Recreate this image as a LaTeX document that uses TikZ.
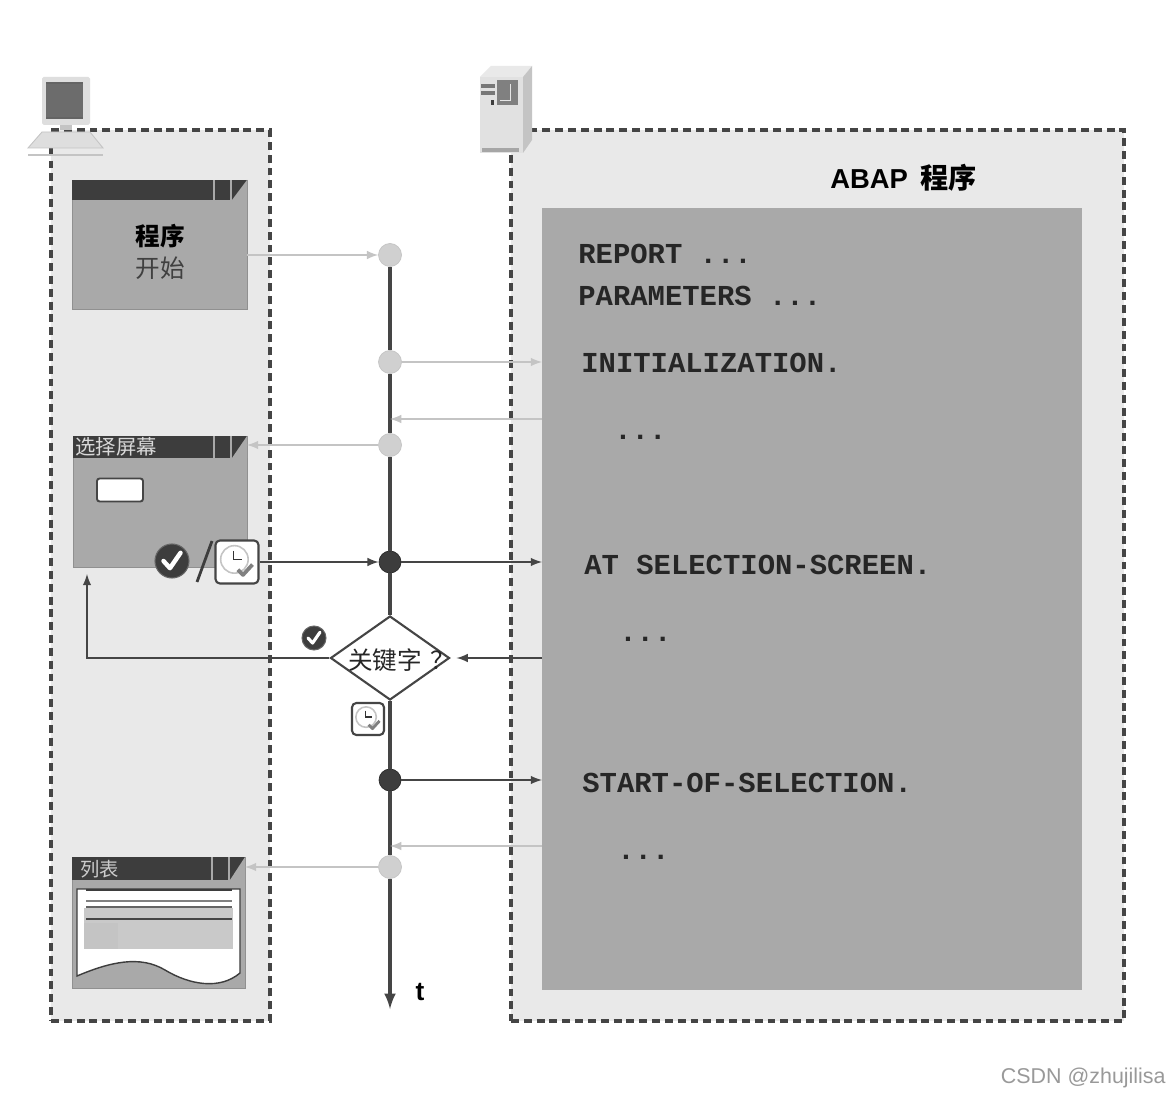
\documentclass[tikz,border=0pt]{standalone}
\usepackage{fontspec}
\setmainfont{Liberation Sans}
\newfontfamily\cjk{Noto Sans CJK SC}
\newfontfamily\codefont{Liberation Mono}
\usetikzlibrary{arrows,calc,shapes.geometric}
\definecolor{panelgray}{HTML}{E9E9E9}
\definecolor{boxgray}{HTML}{A9A9A9}
\definecolor{bardark}{HTML}{3D3D3D}
\definecolor{linedark}{HTML}{454545}
\definecolor{linelight}{HTML}{C4C4C4}
\tikzset{
 panel/.style={draw=linedark, fill=panelgray, line width=1.8pt, dash pattern=on 4.5pt off 2.8pt, anchor=north west, inner sep=0pt, outer sep=0pt},
 window/.style={fill=boxgray, draw=boxgray!85!black, line width=.5pt, anchor=north west, inner sep=0pt, outer sep=0pt},
 lightdot/.style={circle, fill=linelight!80!white, draw=linelight, minimum size=.46cm, inner sep=0pt},
 darkdot/.style={circle, fill=bardark, draw=bardark!70!black, minimum size=.44cm, inner sep=0pt},
 lightarrow/.style={draw=linelight, line width=1.2pt, -latex},
 darkarrow/.style={draw=linedark, line width=1.2pt, -latex},
 code/.style={font=\codefont\fontsize{16.45}{18}\selectfont\bfseries, text=black!85, anchor=west, inner sep=0pt},
 cjklabel/.style={font=\cjk\fontsize{14}{16}\selectfont, inner sep=0pt}
}
% window with title bar: name, x, y, width, height, bar height
\newcommand{\appwindow}[6]{
 \node[window, minimum width=#4*.02cm, minimum height=#5*.02cm] (#1) at (#2,#3) {};
 \fill[bardark] (#2,#3) rectangle ($ (#2,#3) + (#4,#6) $);
 \fill[boxgray] ($ (#2,#3) + (#4-34,0) $) rectangle ($ (#2,#3) + (#4-32,#6) $);
 \fill[boxgray] ($ (#2,#3) + (#4-17,0) $) rectangle ($ (#2,#3) + (#4-15,#6) $);
 \fill[boxgray] ($ (#2,#3) + (#4,0) $) -- ($ (#2,#3) + (#4-15,#6) $) -- ($ (#2,#3) + (#4,#6) $) -- cycle;
}
% check mark disc: name, position, radius
\newcommand{\checkdisc}[3]{
 \node[circle, fill=bardark, draw=black!60, line width=.6pt, minimum size=2*#3*.02cm, inner sep=0pt] (#1) at #2 {};
 \draw[white, line width=#3*.15pt, line cap=round, line join=round] ($ #2 + (-.5*#3,0) $) -- ($ #2 + (-.12*#3,.42*#3) $) -- ($ #2 + (.5*#3,-.48*#3) $);
}
% clock button: name, position, size
\newcommand{\clockbutton}[3]{
 \node[draw=linedark, fill=white, line width=1.2pt, rounded corners=2.5pt, minimum size=#3*.02cm, inner sep=0pt] (#1) at #2 {};
 \draw[linelight, line width=.9pt] ($ #2 + (-.06*#3,-.06*#3) $) circle (.32*#3);
 \draw[black!80, line width=.7pt] ($ #2 + (-.08*#3,-.26*#3) $) -- ($ #2 + (-.08*#3,-.06*#3) $) -- ($ #2 + (.12*#3,-.06*#3) $);
 \draw[gray, line width=#3*.05pt, line join=round] ($ #2 + (.02*#3,.18*#3) $) -- ($ #2 + (.14*#3,.3*#3) $) -- ($ #2 + (.36*#3,.06*#3) $);
}
\begin{document}
\begin{tikzpicture}[x=.02cm, y=-.02cm]
 \useasboundingbox[fill=white] (0,0) rectangle (1169,1097);
%
 \node[panel, minimum width=219*.02cm, minimum height=891*.02cm] (clientpanel) at (51,130) {};
 \node[panel, minimum width=613*.02cm, minimum height=891*.02cm] (serverpanel) at (511,130) {};
 \node[fill=boxgray, anchor=north west, inner sep=0pt, outer sep=0pt, minimum width=540*.02cm, minimum height=782*.02cm] (codebox) at (542,208) {};
%
% computer
 \fill[panelgray!90!gray, rounded corners=1pt] (42,77) rectangle (90,125);
 \fill[gray!85!black] (46,83) rectangle (83,118);
 \draw[bardark!80!white, line width=.8pt] (46,83) -- (83,83);
 \draw[bardark!80!white, line width=.8pt] (46,118) -- (83,118);
 \fill[linelight] (60,125) rectangle (72,130);
 \fill[panelgray!90!gray, draw=linelight, line width=.5pt] (28,148) -- (42,132) -- (90,132) -- (103,148) -- cycle;
 \draw[linelight, line width=1pt] (28,155) -- (103,155);
%
% server
 \fill[panelgray] (480,77) -- (491,66) -- (532,66) -- (523,77) -- cycle;
 \fill[linelight] (523,77) -- (532,66) -- (532,140) -- (523,153) -- cycle;
 \fill[panelgray!92!gray] (480,77) rectangle (523,153);
 \fill[gray] (497,80) rectangle (518,105);
 \draw[white!80!gray, line width=.5pt] (510,84) -- (510,100) -- (500,100);
 \fill[bardark!70!white] (481,84) rectangle (495,88);
 \fill[bardark!70!white] (481,91) rectangle (495,95);
 \fill[bardark] (491,100) rectangle (494,105);
 \fill[gray!70!white] (482,148) rectangle (519,152);
%
% windows
 \appwindow{startwin}{72}{180}{175}{129}{20}
 \node[cjklabel, font=\cjk\fontsize{14}{16}\selectfont\bfseries] (startlabel) at (160,236) {程序};
 \node[cjklabel, text=black!75] (startlabelb) at (160,268) {开始};
 \appwindow{selwin}{73}{436}{174}{131}{22}
 \node[cjklabel, font=\cjk\fontsize{11.6}{13}\selectfont, text=white!85!black, anchor=west] (seltitle) at (75,447) {选择屏幕};
 \node[draw=linedark, fill=white, line width=1.1pt, rounded corners=1.5pt, minimum width=46*.02cm, minimum height=23*.02cm, inner sep=0pt] (selfield) at (120,490) {};
 \appwindow{listwin}{72}{857}{173}{131}{23}
 \node[cjklabel, font=\cjk\fontsize{11}{13}\selectfont, text=white!80!black, anchor=west] (listtitle) at (80,869) {列表};
 \fill[white, draw=bardark, line width=.8pt] (77,889) -- (240,889) -- (240,973) .. controls (220,990) and (190,985) .. (165,970) .. controls (140,955) and (110,962) .. (77,976) -- cycle;
 \fill[panelgray!70!gray] (84,908) rectangle (233,949);
 \fill[linelight] (84,923) rectangle (118,949);
 \draw[bardark, line width=1pt] (86,890) -- (232,890);
 \draw[gray, line width=1pt] (86,901) -- (232,901);
 \draw[bardark!80!white, line width=1.4pt] (86,907) -- (232,907);
 \draw[linedark, line width=1.2pt] (86,919) -- (232,919);
%
% time line
 \node[lightdot] (reportdot) at (390,255) {};
 \node[lightdot] (initdot) at (390,362) {};
 \node[lightdot] (selshowdot) at (390,445) {};
 \node[darkdot] (atseldot) at (390,562) {};
 \node[diamond, draw=linedark, fill=white, line width=1.2pt, minimum width=119*.02cm, minimum height=84*.02cm, inner sep=0pt] (keyword) at (390,658) {};
 \node[darkdot] (startdot) at (390,780) {};
 \node[lightdot] (listdot) at (390,867) {};
 \coordinate (tend) at (390,1009);
 \begin{scope}[line width=2pt]
  \draw[linedark] (reportdot) -- (initdot);
  \draw[linedark] (initdot) -- (selshowdot);
  \draw[linedark] (selshowdot) -- (atseldot);
  \draw[linedark] (atseldot) -- (keyword);
  \draw[linedark] (keyword) -- (startdot);
  \draw[linedark] (startdot) -- (listdot);
  \draw[linedark, -latex] (listdot) -- (tend);
 \end{scope}
 \node[cjklabel, text=black!85, anchor=west] (keywordtext) at (348,660) {关键字\hspace{4.5pt}？};
 \node[font=\fontsize{15}{17}\selectfont\bfseries, inner sep=0pt] (tlabel) at (420,992) {t};
%
% icons
 \checkdisc{okbig}{(172,561)}{17}
 \draw[bardark, line width=1.6pt] (197,582) -- (212,541);
 \clockbutton{clockbig}{(237,562)}{43}
 \checkdisc{oksmall}{(314,638)}{12}
 \clockbutton{clocksmall}{(368,719)}{32}
%
% arrows
 \draw[lightarrow] (reportdot -| startwin.east) -- (reportdot);
 \draw[lightarrow] (initdot) -- (initdot -| codebox.west);
 \coordinate (backa) at (390,419);
 \draw[lightarrow] (backa -| codebox.west) -- (backa);
 \draw[lightarrow] (selshowdot) -- (selshowdot -| selwin.east);
 \draw[darkarrow] (clockbig.east |- atseldot) -- (atseldot);
 \draw[darkarrow] (atseldot) -- (atseldot -| codebox.west);
 \draw[darkarrow] (keyword.east -| codebox.west) -- ([xshift=.12cm]keyword.east);
 \coordinate (backup) at (87,574);
 \draw[darkarrow] (keyword.west) -| (backup);
 \draw[darkarrow] (startdot) -- (startdot -| codebox.west);
 \coordinate (backb) at (390,846);
 \draw[lightarrow] (backb -| codebox.west) -- (backb);
 \draw[lightarrow] (listdot) -- (listdot -| listwin.east);
%
% code
 \node[font=\fontsize{15.6}{18}\selectfont\bfseries, anchor=west, inner sep=0pt] (abaptitle) at (830,178) {ABAP\hspace{7pt}{\cjk\fontsize{16}{18}\selectfont 程序}};
 \node[code] (reportline) at (578,254) {REPORT ...};
 \node[code] (paramline) at (578,296) {PARAMETERS ...};
 \node[code] (initline) at (581,363) {INITIALIZATION.};
 \node[code] (initdots) at (614,437) {...};
 \node[code] (atselline) at (584,565) {AT SELECTION-SCREEN.};
 \node[code] (atseldots) at (619,639) {...};
 \node[code] (startline) at (582,783) {START-OF-SELECTION.};
 \node[code] (startdots) at (617,857) {...};
%
 \node[font=\fontsize{12.2}{14}\selectfont, text=black!40, anchor=east, inner sep=0pt] (watermark) at (1166,1078) {CSDN @zhujilisa};
\end{tikzpicture}
\end{document}
